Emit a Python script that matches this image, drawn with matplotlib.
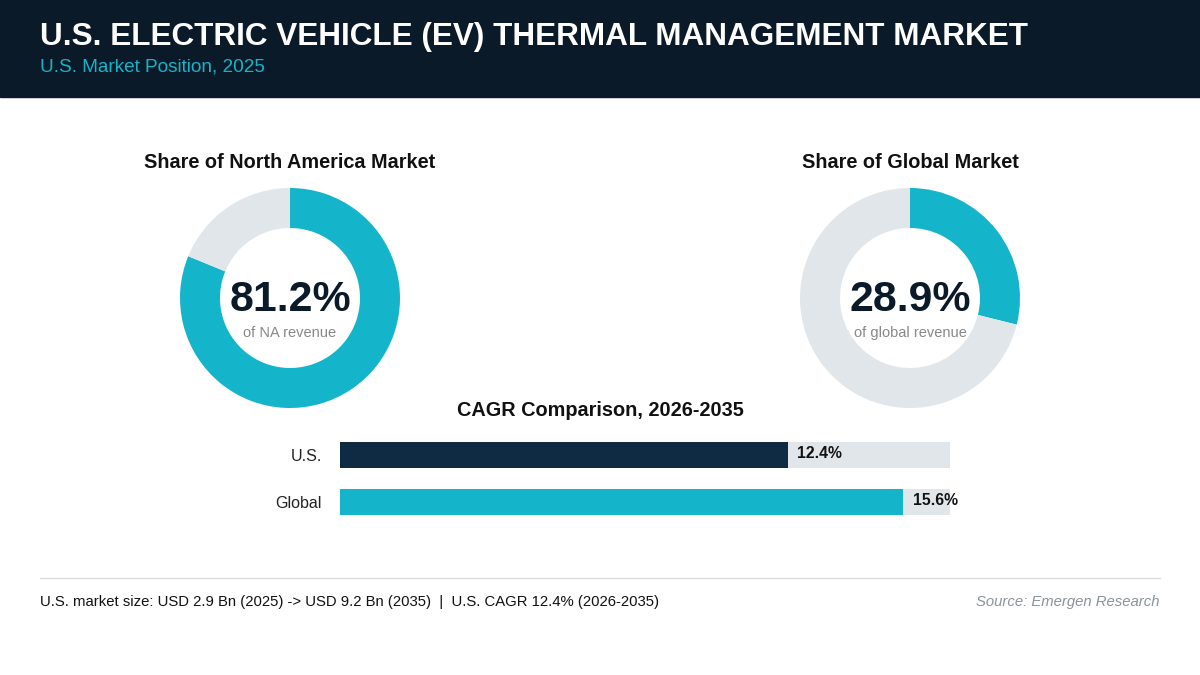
import matplotlib
matplotlib.use("Agg")
import matplotlib.pyplot as plt

plt.rcParams['font.family'] = ['Liberation Sans', 'DejaVu Sans']

title = "U.S. ELECTRIC VEHICLE (EV) THERMAL MANAGEMENT MARKET"
subtitle = "U.S. Market Position, 2025"
donut_titles = ["Share of North America Market", "Share of Global Market"]
donut_values = [81.2, 28.9]
donut_sub = ["of NA revenue", "of global revenue"]
cagr_labels = ["U.S.", "Global"]
cagr_values = [12.4, 15.6]
cagr_max = 16.9
footer = "U.S. market size: USD 2.9 Bn (2025) -> USD 9.2 Bn (2035)  |  U.S. CAGR 12.4% (2026-2035)"
source = "Source: Emergen Research"

CYAN = "#14b5ca"
GREY = "#e1e6ea"
DARK = "#0b1a28"
NAVY = "#0f2a43"

W, H = 1200, 675
fig = plt.figure(figsize=(12, 6.75), dpi=100)
bg = fig.add_axes([0, 0, 1, 1])
bg.set_xlim(0, W); bg.set_ylim(H, 0); bg.axis('off')
bg.add_patch(plt.Rectangle((0, 0), W, 97, color=DARK, zorder=0))
bg.text(40, 37, title, color='white', fontsize=22.7, fontweight='bold', va='center')
bg.text(40, 67, subtitle, color=CYAN, fontsize=13.7, va='center')
bg.plot([40, 1160], [578, 578], color='#dddddd', lw=1)
bg.text(40, 602, footer, fontsize=10.75, color='#111111', va='center')
bg.text(1160, 602, source, fontsize=10.75, color='#8a9399', style='italic', va='center', ha='right')

for cx, t, v, s in zip([290, 910], donut_titles, donut_values, donut_sub):
    bg.text(cx, 163, t, fontsize=14.3, fontweight='bold', ha='center', va='center', color='#111111')
    r = 110
    ax = fig.add_axes([(cx - r) / W, (H - 298 - r) / H, 2 * r / W, 2 * r / H])
    ax.pie([v, 100 - v], colors=[CYAN, GREY], startangle=90, counterclock=False,
           wedgeprops=dict(width=40 / 110, linewidth=0))
    ax.set_xlim(-1, 1); ax.set_ylim(-1, 1)
    ax.set_aspect('equal')
    bg.text(cx, 300, f"{v}%", fontsize=30.8, fontweight='bold', ha='center', va='center', color=DARK)
    bg.text(cx, 333, s, fontsize=10.5, ha='center', va='center', color='#888888')

bg.text(600, 410, "CAGR Comparison, 2026-2035", fontsize=14.3, fontweight='bold', ha='center', va='center', color='#111111')
bax = fig.add_axes([340 / W, (H - 525.5) / H, 610 / W, 94 / H])
bax.set_xlim(0, cagr_max); bax.set_ylim(1.5, -0.5); bax.axis('off')
ys = list(range(len(cagr_values)))
bax.barh(ys, [cagr_max] * len(ys), height=0.574, color=GREY)
bax.barh(ys, cagr_values, height=0.574, color=[NAVY, CYAN])
for y, v, l in zip(ys, cagr_values, cagr_labels):
    bax.text(v + 0.27, y - 0.03, f"{v}%", fontsize=11.3, fontweight='bold', va='center', color='#111111')
    bax.text(-0.5, y + 0.03, l, fontsize=11.5, va='center', ha='right', color='#222222')

fig.savefig("out.png", dpi=100)
